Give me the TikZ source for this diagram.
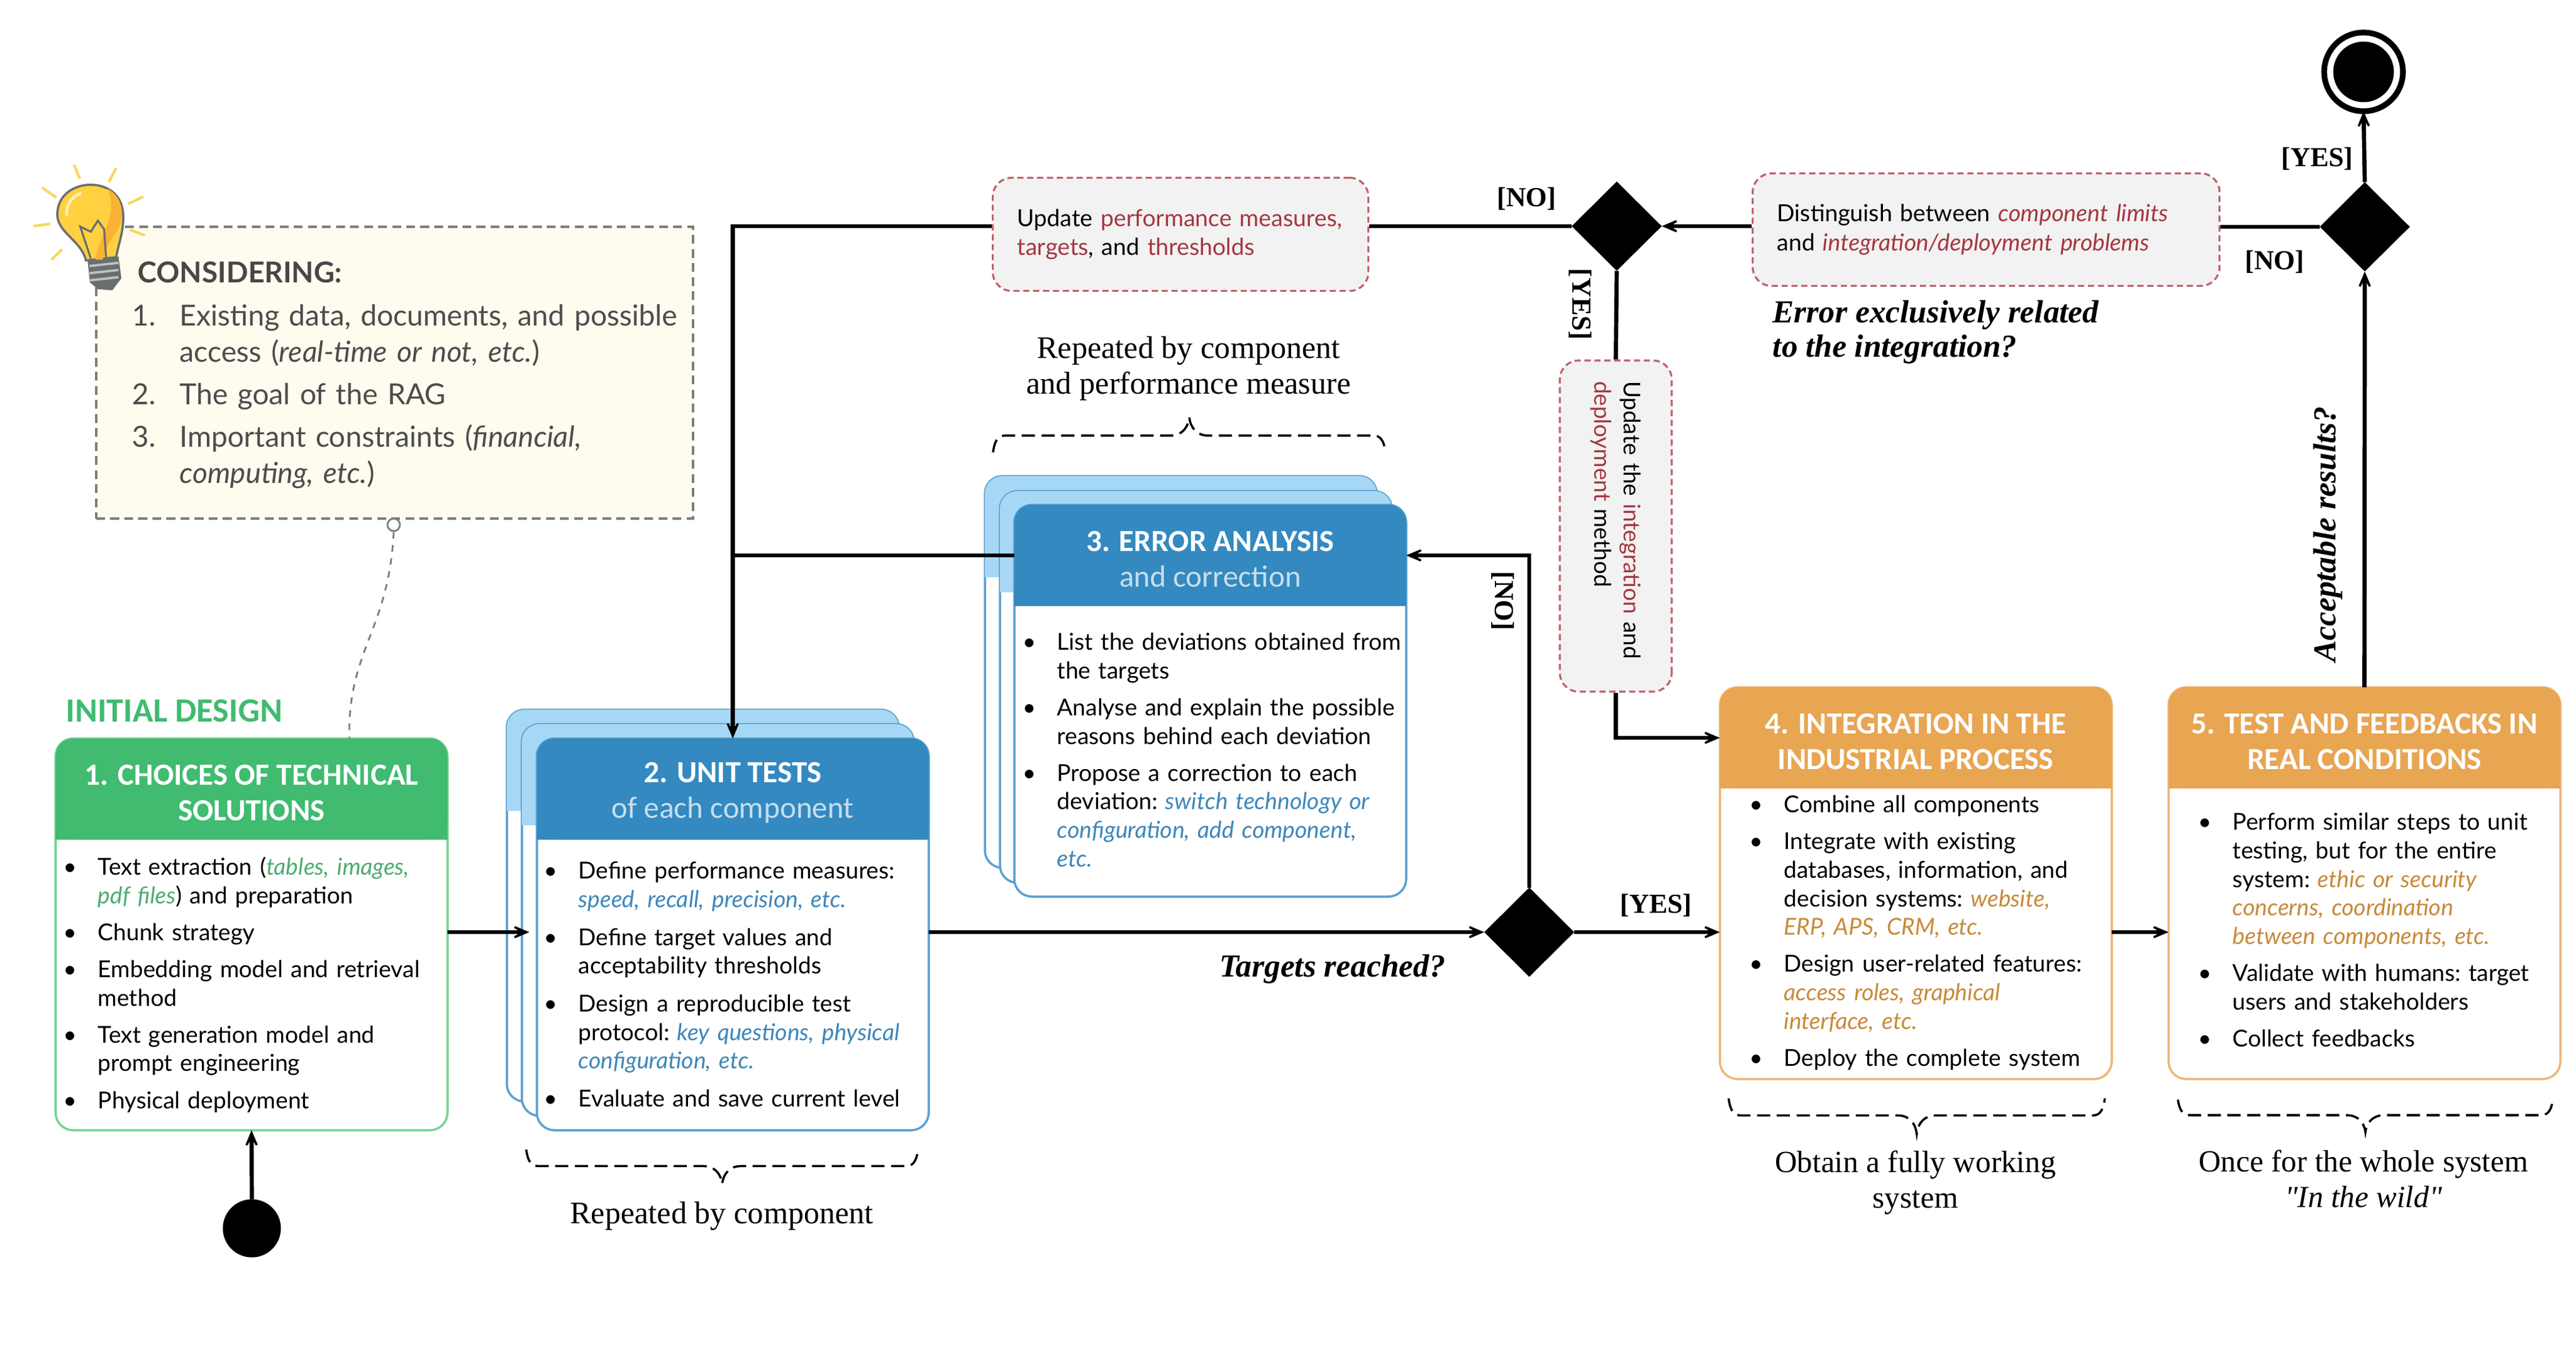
\documentclass[tikz,border=0pt]{standalone}
\usepackage{fontspec}
\setmainfont{Lato}
\newfontfamily\headfont{Carlito}
\newfontfamily\notefont{Liberation Serif}
\usetikzlibrary{positioning,calc,arrows.meta,shapes.geometric}
\definecolor{techgreen}{RGB}{64,187,112}
\definecolor{techtext}{RGB}{78,172,115}
\definecolor{techline}{RGB}{120,210,150}
\definecolor{testblue}{RGB}{51,137,192}
\definecolor{testtext}{RGB}{62,135,185}
\definecolor{testline}{RGB}{90,160,208}
\definecolor{testlight}{RGB}{166,216,245}
\definecolor{realorange}{RGB}{232,165,82}
\definecolor{realtext}{RGB}{200,138,58}
\definecolor{realline}{RGB}{236,182,120}
\definecolor{updred}{RGB}{165,55,65}
\definecolor{updline}{RGB}{192,97,106}
\definecolor{updfill}{RGB}{242,242,242}
\definecolor{creamfill}{RGB}{255,251,238}
\definecolor{creamline}{RGB}{125,125,125}
\definecolor{bulbgray}{RGB}{105,110,110}
\definecolor{bulbyellow}{RGB}{255,208,64}
\definecolor{bulborange}{RGB}{249,178,51}
\definecolor{bulbray}{RGB}{249,214,92}
\newcommand{\gtxt}[1]{{\itshape\color{techtext}#1}}
\newcommand{\btxt}[1]{{\itshape\color{testtext}#1}}
\newcommand{\otxt}[1]{{\itshape\color{realtext}#1}}
\newcommand{\rtxt}[1]{{\color{updred}#1}}
\newcommand{\ritxt}[1]{{\itshape\color{updred}#1}}
\newcommand{\bitem}{\par\leavevmode\llap{\textbullet\hspace{9.5pt}}}
\newcommand{\nitem}[1]{\par\leavevmode\llap{#1\hspace{10.8pt}}}
\newcommand{\subhead}[1]{{\fontseries{m}\selectfont\color{white!72!testblue}#1}}
\newcommand{\cardhead}[4]{%
	\fill[#3] ($(#1.north west)+(0,-1.2)$) rectangle ($(#1.north east)+(0,-1.62)$);
	\node[headbox, fill=#3, below=0pt of #1.north] (#2) {\rule{0pt}{12.4pt}#4};}
\newcommand{\dashbrace}[4]{%
	\pgfmathsetmacro{\bracemid}{(#1+#2)/2}
	\draw[bracket] (#1,#3) .. controls +(0.03,{0.4*(#4)}) and +(-0.1,0) .. (#1+0.2,{#3+0.48*(#4)}) -- (\bracemid-0.3,{#3+0.48*(#4)}) .. controls +(0.18,0) and +(-0.02,{-0.3*(#4)}) .. (\bracemid,{#3+(#4)}) .. controls +(0.02,{-0.3*(#4)}) and +(-0.18,0) .. (\bracemid+0.3,{#3+0.48*(#4)}) -- (#2-0.2,{#3+0.48*(#4)}) .. controls +(0.1,0) and +(-0.03,{0.4*(#4)}) .. (#2,#3);}
\tikzset{
	card/.style={draw, fill=white, rounded corners=0.28cm, line width=1pt, minimum width=6.27cm, minimum height=6.27cm, inner sep=0pt, outer sep=0pt, anchor=north west},
	headbox/.style={rounded corners=0.28cm, minimum width=6.27cm, minimum height=1.62cm, inner sep=0pt, outer sep=0pt, align=center, text=white, font=\headfont\bfseries\fontsize{14}{16.2}\selectfont},
	listtext/.style={inner sep=0pt, text width=6cm, align=left, font=\fontsize{10.6}{13}\selectfont, execute at begin node={\frenchspacing\setlength{\parskip}{3.8pt}}},
	notebox/.style={draw=updline, fill=updfill, dash pattern=on 2.8pt off 1.7pt, rounded corners=0.3cm, line width=0.9pt, inner xsep=0.39cm, inner ysep=0pt, align=left, font=\fontsize{10.7}{13.2}\selectfont, execute at begin node={\frenchspacing}},
	decision/.style={diamond, fill=black, minimum width=1.44cm, minimum height=1.43cm, inner sep=0pt, outer sep=0pt},
	flow/.style={-{Stealth[length=4.5mm,width=3.8mm,inset=3.2mm]}, line width=1.9pt},
	plainflow/.style={line width=1.9pt},
	guard/.style={font=\notefont\bfseries\fontsize{12.5}{14}\selectfont, inner sep=0pt},
	question/.style={font=\notefont\bfseries\itshape\fontsize{14.6}{15.7}\selectfont, inner sep=0pt, align=left},
	remark/.style={font=\notefont\fontsize{14}{16}\selectfont, inner sep=0pt, align=center},
	bracket/.style={dash pattern=on 6pt off 3pt, line width=1pt},
}
\begin{document}
\begin{tikzpicture}
	\useasboundingbox (0,0) rectangle (41.22,-21.55);

	\node[card, draw=creamline, fill=creamfill, dash pattern=on 4pt off 2.4pt, rounded corners=0pt, line width=1.1pt, minimum width=9.55cm, minimum height=4.67cm] (consider) at (1.54,-3.63) {};
	\node[inner sep=0pt, anchor=west, text=black!72, font=\bfseries\fontsize{13.1}{15}\selectfont] (considerhead) at (2.20,-4.36) {CONSIDERING:};
	\node[listtext, anchor=north west, text width=8cm, text=black!70, font=\fontsize{13.2}{16.5}\selectfont, execute at begin node={\setlength{\parskip}{2.8pt}}] (considerlist) at (2.87,-4.53) {%
		\nitem{1.}Existing data, documents, and possible\\access (\textit{real-time or not, etc.})
		\nitem{2.}The goal of the RAG
		\nitem{3.}Important constraints (\textit{financial,}\\\textit{computing, etc.})};

	\begin{scope}[shift={(0,-2)}, x=0.00765cm, y=-0.00638cm]
		\foreach \rx/\ry/\sx/\sy in {155/100/167/135, 243/108/228/143, 88/157/118/182, 300/180/268/198, 70/254/105/248, 108/338/130/312, 303/277/272/263}
			\draw[bulbray, line width=1.2pt] (\rx,\ry) -- (\sx,\sy);
		\fill[bulbgray] (183,335) -- (248,330) -- (254,385) -- (235,415) -- (205,412) -- (188,395) -- cycle;
		\foreach \sy in {350,368,386}
			\draw[white!75!black, line width=1.1pt] (187,\sy+4) -- (248,\sy-4);
		\draw[bulbgray, fill=bulbyellow, line width=1pt] (180,340) .. controls (170,290) and (120,270) .. (120,225) .. controls (120,175) and (155,150) .. (190,150) .. controls (225,150) and (258,175) .. (258,230) .. controls (258,270) and (250,290) .. (243,332) -- cycle;
		\fill[bulborange] (215,338) .. controls (225,280) and (258,270) .. (255,215) .. controls (252,185) and (240,170) .. (225,160) .. controls (250,230) and (205,280) .. (200,338) -- cycle;
		\draw[white!60!bulbyellow, line width=1.4pt, line cap=round] (140,225) .. controls (138,200) and (150,180) .. (168,172);
		\draw[bulbgray, line width=0.9pt] (190,335) -- (168,255) -- (190,268) -- (205,240) -- (218,262) -- (222,332);
	\end{scope}

	\node[inner sep=0pt, anchor=west, text=techgreen, font=\headfont\bfseries\fontsize{15.5}{16}\selectfont] (initial) at (1.05,-11.38) {INITIAL DESIGN};

	\node[card, draw=techline] (tech) at (0.89,-11.82) {};
	\cardhead{tech}{techhead}{techgreen}{1. CHOICES OF TECHNICAL\\SOLUTIONS}
	\node[listtext, below right=1.59cm and 0.67cm of tech.north west] (techlist) {%
		\bitem Text extraction (\gtxt{tables, images,}\\\gtxt{pdf files}) and preparation
		\bitem Chunk strategy
		\bitem Embedding model and retrieval\\method
		\bitem Text generation model and\\prompt engineering
		\bitem Physical deployment};

	\node[card, draw=testline] (testsback) at (8.11,-11.36) {};
	\cardhead{testsback}{testsbackhead}{testlight}{}
	\node[card, draw=testline] (testsmid) at (8.35,-11.59) {};
	\cardhead{testsmid}{testsmidhead}{testlight}{}
	\node[card, draw=testline] (tests) at (8.59,-11.82) {};
	\cardhead{tests}{testshead}{testblue}{2. UNIT TESTS\\\subhead{of each component}}
	\node[listtext, below right=1.63cm and 0.66cm of tests.north west, execute at begin node={\setlength{\parskip}{4.3pt}}] (testslist) {%
		\bitem Define performance measures:\\\btxt{speed, recall, precision, etc.}
		\bitem Define target values and\\acceptability thresholds
		\bitem Design a reproducible test\\protocol: \btxt{key questions, physical}\\\btxt{configuration, etc.}
		\bitem Evaluate and save current level};

	\node[card, draw=testline] (errorsback) at (15.76,-7.62) {};
	\cardhead{errorsback}{errorsbackhead}{testlight}{}
	\node[card, draw=testline] (errorsmid) at (16.00,-7.86) {};
	\cardhead{errorsmid}{errorsmidhead}{testlight}{}
	\node[card, draw=testline] (errors) at (16.23,-8.08) {};
	\cardhead{errors}{errorshead}{testblue}{3. ERROR ANALYSIS\\\subhead{and correction}}
	\node[listtext, below right=1.73cm and 0.68cm of errors.north west] (errorslist) {%
		\bitem List the deviations obtained from\\the targets
		\bitem Analyse and explain the possible\\reasons behind each deviation
		\bitem Propose a correction to each\\deviation: \btxt{switch technology or}\\\btxt{configuration, add component,}\\\btxt{etc.}};

	\node[card, draw=realline] (inter) at (27.52,-11.00) {};
	\cardhead{inter}{interhead}{realorange}{4. INTEGRATION IN THE\\INDUSTRIAL PROCESS}
	\node[listtext, below right=1.41cm and 1.02cm of inter.north west] (interlist) {%
		\bitem Combine all components
		\bitem Integrate with existing\\databases, information, and\\decision systems: \otxt{website,}\\\otxt{ERP, APS, CRM, etc.}
		\bitem Design user-related features:\\\otxt{access roles, graphical}\\\otxt{interface, etc.}
		\bitem Deploy the complete system};

	\node[card, draw=realline] (field) at (34.70,-11.00) {};
	\cardhead{field}{fieldhead}{realorange}{5. TEST AND FEEDBACKS IN\\REAL CONDITIONS}
	\node[listtext, below right=1.69cm and 1.02cm of field.north west] (fieldlist) {%
		\bitem Perform similar steps to unit\\testing, but for the entire\\system: \otxt{ethic or security}\\\otxt{concerns, coordination}\\\otxt{between components, etc.}
		\bitem Validate with humans: target\\users and stakeholders
		\bitem Collect feedbacks};

	\node[decision] (reached) at (24.47,-14.92) {};
	\node[decision] (integ) at (25.87,-3.62) {};
	\node[decision] (accept) at (37.84,-3.63) {};

	\node[notebox, anchor=north west, minimum height=1.81cm, text width=5.23cm] (updmeas) at (15.87,-2.83) {Update \rtxt{performance measures,}\\\rtxt{targets}, and \rtxt{thresholds}};
	\node[notebox, anchor=north west, minimum height=1.80cm, text width=6.69cm] (distinct) at (28.03,-2.76) {Distinguish between \ritxt{component limits}\\and \ritxt{integration/deployment problems}};
	\node[notebox, rotate=-90, minimum height=1.79cm, inner xsep=0.33cm, text width=4.64cm, font=\fontsize{10.5}{13.2}\selectfont] (updint) at (25.855,-8.42) {Update the \rtxt{integration} and\\\rtxt{deployment} method};

	\node[circle, fill=black, minimum size=0.93cm, inner sep=0pt, outer sep=0pt] (start) at (4.03,-19.66) {};
	\node[circle, draw=black, line width=2.6pt, minimum size=1.26cm, inner sep=0pt, outer sep=0pt] (final) at (37.82,-1.15) {};
	\node[circle, fill=black, minimum size=0.97cm, inner sep=0pt] (finaldot) at (final) {};

	\node[circle, draw=creamline, fill=white, line width=0.8pt, minimum size=0.2cm, inner sep=0pt] (considerdot) at (6.30,-8.40) {};
	\coordinate (techtop) at (5.59,-11.82);
	\draw[creamline, dashed, line width=0.8pt] (considerdot.south) .. controls (6.22,-10.1) and (5.56,-10.4) .. (techtop);

	\draw[flow] (start.north) -- (tech.south);
	\draw[flow, shorten >=0.12cm] (tech.east |- reached) -- (tests.west |- reached);
	\draw[flow] (tests.east |- reached) -- (reached.west);
	\draw[flow] (reached.east) -- (inter.west |- reached);
	\draw[flow] (inter.east |- reached) -- (field.west |- reached);
	\draw[flow] (reached.north) |- (errorshead.east);
	\draw[plainflow] (errorshead.west) -- (errorshead.west -| tests.north);
	\draw[flow] (updmeas.west |- integ) -| (tests.north);
	\draw[plainflow] (updmeas.east |- integ) -- (integ.west);
	\draw[flow] (distinct.west |- integ) -- (integ.east);
	\draw[plainflow] (integ.south) -- (updint.west);
	\draw[flow] (updint.east) |- (interhead.west);
	\draw[plainflow] (accept.west) -- (distinct.east |- accept);
	\draw[flow] (field.north) -- (accept.south);
	\draw[flow] (accept.north) -- (final.south);

	\node[guard] (yesreached) at (26.50,-14.49) {[YES]};
	\node[guard, rotate=-90] (noreached) at (24.05,-9.62) {[NO]};
	\node[guard] (nointeg) at (24.43,-3.18) {[NO]};
	\node[guard, rotate=-90] (yesinteg) at (25.29,-4.87) {[YES]};
	\node[guard] (noaccept) at (36.40,-4.19) {[NO]};
	\node[guard] (yesaccept) at (37.08,-2.54) {[YES]};

	\node[question] (targetq) at (21.32,-15.51) {Targets reached?};
	\node[question, anchor=north west] (errorq) at (28.36,-4.80) {Error exclusively related\\to the integration?};
	\node[question, rotate=90] (acceptq) at (37.25,-8.55) {Acceptable results?};

	\dashbrace{8.42}{14.69}{-18.40}{-0.55}
	\dashbrace{15.89}{22.17}{-7.24}{0.56}
	\dashbrace{27.66}{33.68}{-17.58}{-0.57}
	\dashbrace{34.85}{40.85}{-17.60}{-0.52}

	\node[remark, font=\notefont\fontsize{14.3}{16}\selectfont] (testsnote) at (11.55,-19.46) {Repeated by component};
	\node[remark, font=\notefont\fontsize{14.3}{16}\selectfont] (errorsnote) at (19.02,-5.90) {Repeated by component\\and performance measure};
	\node[remark] (internote) at (30.65,-18.93) {Obtain a fully working\\system};
	\node[remark] (fieldnote) at (37.82,-18.87) {Once for the whole system\\\textit{"In the wild"}};
\end{tikzpicture}
\end{document}
